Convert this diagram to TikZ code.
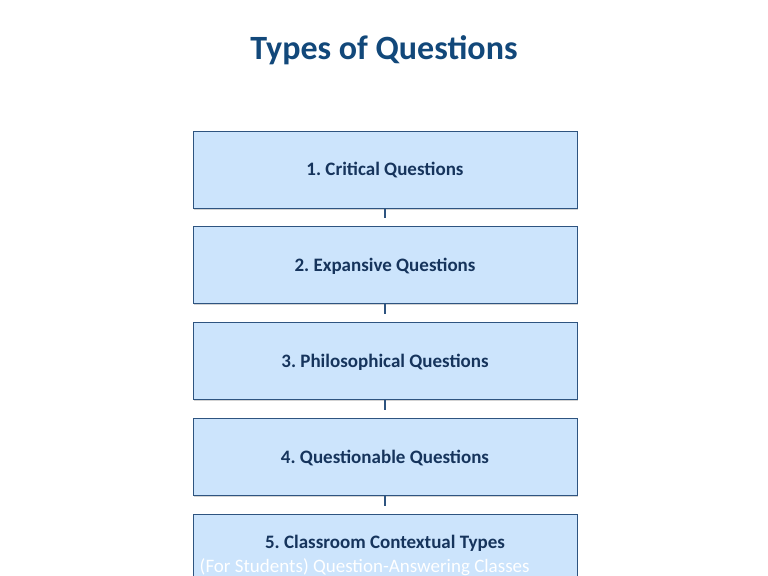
\documentclass[tikz,border=0pt]{standalone}
\usepackage{fontspec}
\setmainfont{Carlito}
\usetikzlibrary{positioning}
\usetikzlibrary{shadows}
\definecolor{boxfill}{RGB}{204,228,252}
\definecolor{boxline}{RGB}{46,84,128}
\definecolor{boxtext}{RGB}{22,52,92}
\definecolor{titleblue}{RGB}{18,72,122}
\tikzset{qbox/.style={draw=boxline,line width=0.9bp,fill=boxfill,
        minimum width=384bp,minimum height=77bp,inner sep=0pt,
        text height=13bp,text depth=0pt,
        drop shadow={shadow xshift=1.2bp,shadow yshift=-1.5bp,opacity=0.35},
        font=\fontsize{19bp}{22bp}\selectfont\bfseries,text=boxtext},
    link/.style={draw=boxline,line width=2bp}}
\frenchspacing

\begin{document}
\begin{tikzpicture}[x=1bp,y=1bp,node distance=18bp]
      \useasboundingbox (0,0) rectangle (768,-576);
      \clip (0,0) rectangle (768,-576);
      \node[font=\fontsize{34bp}{40bp}\selectfont\bfseries,text=titleblue] (title) at (384,-50) {Types of Questions};
      \node[qbox] (critical) at (385,-169.5) {1. Critical Questions};
      \node[qbox,below=of critical] (expansive) {2. Expansive Questions};
      \node[qbox,below=of expansive] (philosophical) {3. Philosophical Questions};
      \node[qbox,below=of philosophical] (questionable) {4. Questionable Questions};
      \node[qbox,below=of questionable] (classroom) {};
      \node[font=\fontsize{19bp}{22bp}\selectfont\bfseries,text=boxtext] (classroomtitle) at ([yshift=-29bp]classroom.north) {5. Classroom Contextual Types};
      \node[anchor=west,inner sep=0pt,font=\fontsize{19bp}{22bp}\selectfont,text=white] (students) at ([xshift=7bp,yshift=-53bp]classroom.north west) {(For Students) Question-Answering Classes};
      \foreach \a/\b in {critical/expansive,expansive/philosophical,philosophical/questionable,questionable/classroom}
        \draw[link] (\a.south) -- ([yshift=-10bp]\a.south);
\end{tikzpicture}
\end{document}
